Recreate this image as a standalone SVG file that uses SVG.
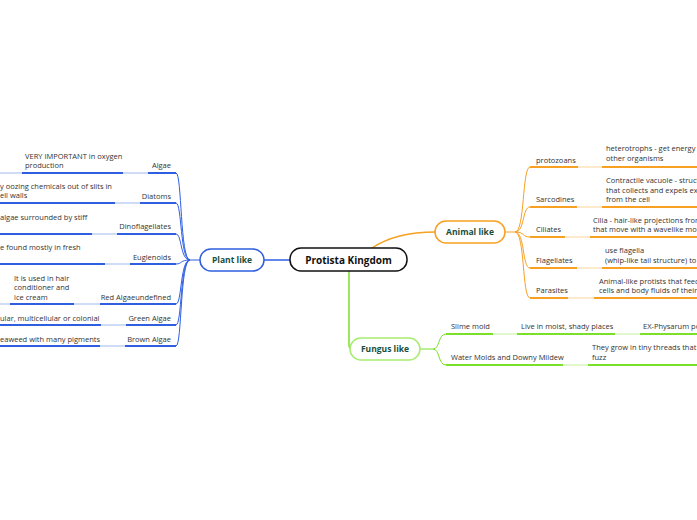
<svg xmlns="http://www.w3.org/2000/svg" width="697" height="520" viewBox="0 0 697 520">
<style>
text{font-family:"Open Sans","Noto Sans",sans-serif;font-size:7.5px;fill:#333}
.b{font-weight:bold;fill:#1a4d3a;font-size:8.5px}
.c{font-weight:bold;fill:#111;font-size:10px}
.pl{stroke:#2f5fe0;fill:none}
.al{stroke:#f7a021;fill:none}
.fl{stroke:#7be02a;fill:none}
.lt{stroke-width:1;opacity:.45}
.dk{stroke-width:2}
</style>
<g id="connectors">
<path class="pl" stroke-width="1.5" d="M290 260 H264"/>
<path class="al" stroke-width="1.5" d="M372 248 C390 236 410 232 435 232"/>
<path class="fl" stroke-width="1.5" d="M349 271 V345 Q349 349 352 349"/>
<g class="pl" stroke-width="1">
<path d="M200 260 H190 C180 260 182 173 176 173"/>
<path d="M190 260 C180 260 182 203 176 203"/>
<path d="M190 260 C180 260 182 234 176 234"/>
<path d="M190 260 C180 260 182 264 176 264"/>
<path d="M190 260 C180 260 182 304 176 304"/>
<path d="M190 260 C180 260 182 325 176 325"/>
<path d="M190 260 C180 260 182 346 176 346"/>
</g>
<g class="al" stroke-width="1">
<path d="M505 232 H515 C525 232 522 167 530 167"/>
<path d="M515 232 C525 232 522 207 530 207"/>
<path d="M515 232 C525 232 522 237 530 237"/>
<path d="M515 232 C525 232 522 268 530 268"/>
<path d="M515 232 C525 232 522 298 530 298"/>
</g>
<g class="fl" stroke-width="1">
<path d="M420 349 H433 C440 349 438 334 446 334"/>
<path d="M433 349 C440 349 438 365 446 365"/>
</g>
</g>
<g id="center"><rect x="290" y="248" width="117" height="23" rx="11" fill="#fff" stroke="#111" stroke-width="1.5"/><text class="c" x="348.5" y="263.5" text-anchor="middle">Protista Kingdom</text></g>
<g id="plant"><rect x="200" y="249" width="64" height="22" rx="11" fill="#fff" stroke="#2f5fe0" stroke-width="1.5"/><text class="b" x="232" y="263" text-anchor="middle">Plant like</text></g>
<g id="animal"><rect x="435" y="221" width="70" height="22" rx="11" fill="#fff" stroke="#f7a021" stroke-width="1.5"/><text class="b" x="470" y="235" text-anchor="middle">Animal like</text></g>
<g id="fungus"><rect x="350" y="338" width="70" height="22" rx="11" fill="#fff" stroke="#a6ec70" stroke-width="1.5"/><text class="b" x="385" y="352" text-anchor="middle">Fungus like</text></g>

<g id="plant-children">
<path class="pl lt" d="M0 173H176M0 203H176M0 234H176M0 264H176M0 304H176M0 325H176M0 346H176"/>
<path class="pl dk" d="M22 173H123M148 173H176M0 203H115M140 203H176M0 234H92M117 234H176M0 264H105M130 264H176M10 304H74M100 304H176M0 325H101M126 325H176M0 346H100M125 346H176"/>
<text x="171" y="168" text-anchor="end">Algae</text>
<text x="25" y="159">VERY IMPORTANT in oxygen</text><text x="25" y="168">production</text>
<text x="171" y="199" text-anchor="end">Diatoms</text>
<text x="0" y="189">y oozing chemicals out of slits in</text><text x="0" y="198">ell walls</text>
<text x="171" y="229" text-anchor="end">Dinoflagellates</text>
<text x="0" y="220">algae surrounded by stiff</text>
<text x="171" y="260" text-anchor="end">Euglenoids</text>
<text x="0" y="250">e found mostly in fresh</text>
<text x="171" y="300" text-anchor="end">Red Algaeundefined</text>
<text x="14" y="281">It is used in hair</text><text x="14" y="290">conditioner and</text><text x="14" y="300">ice cream</text>
<text x="171" y="321" text-anchor="end">Green Algae</text>
<text x="0" y="321">ular, multicellular or colonial</text>
<text x="171" y="342" text-anchor="end">Brown Algae</text>
<text x="0" y="342">eaweed with many pigments</text>
</g>

<g id="animal-children">
<path class="al lt" d="M530 167H697M530 207H697M530 237H697M530 268H697M530 298H697"/>
<path class="al dk" d="M530 167H578M602 167H697M530 207H577M602 207H697M530 237H565M590 237H697M530 268H577M602 268H697M530 298H568M594 298H697"/>
<text x="536" y="163">protozoans</text>
<text x="606" y="151">heterotrophs - get energy f</text><text x="606" y="161">other organisms</text>
<text x="536" y="202">Sarcodines</text>
<text x="606" y="183">Contractile vacuole - structu</text><text x="606" y="193">that collects and expels ext</text><text x="606" y="202">from the cell</text>
<text x="536" y="232">Ciliates</text>
<text x="593" y="223">Cilia - hair-like projections from</text><text x="593" y="232">that move with a wavelike moti</text>
<text x="536" y="263">Flagellates</text>
<text x="605" y="253">use flagella</text><text x="605" y="263">(whip-like tail structure) to m</text>
<text x="536" y="293">Parasites</text>
<text x="599" y="284">Animal-like protists that feed</text><text x="599" y="293">cells and body fluids of their</text>
</g>

<g id="fungus-children">
<path class="fl lt" d="M446 334H697M446 365H697"/>
<path class="fl dk" d="M446 334H493M517 334H615M640 334H697M446 365H563M588 365H697"/>
<text x="451" y="329">Slime mold</text>
<text x="521" y="329">Live in moist, shady places</text>
<text x="643" y="329">EX-Physarum po</text>
<text x="451" y="360">Water Molds and Downy Mildew</text>
<text x="592" y="350">They grow in tiny threads that l</text><text x="592" y="360">fuzz</text>
</g>
</svg>
